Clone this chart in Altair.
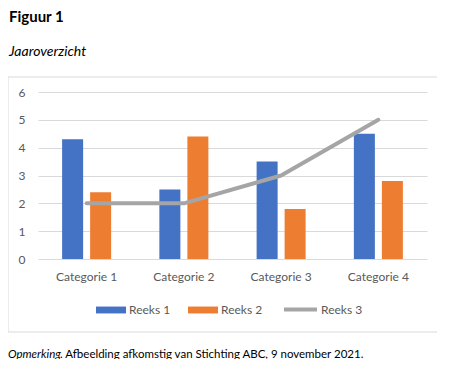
import altair as alt
import pandas as pd

categories = ["Categorie 1", "Categorie 2", "Categorie 3", "Categorie 4"]
reeks1 = [4.3, 2.5, 3.5, 4.5]
reeks2 = [2.4, 4.4, 1.8, 2.8]
reeks3 = [2, 2, 3, 5]
bar_series = ["Reeks 1", "Reeks 2"]
line_series = ["Reeks 3"]
y_ticks = [0, 1, 2, 3, 4, 5, 6]
title_text = ["Figuur 1"]
subtitle_text = ["Jaaroverzicht"]
note_italic = ["Opmerking"]
note_rest = [". Afbeelding afkomstig van Stichting ABC, 9 november 2021."]

FONT = "Lato"
LABEL = "#595959"

bars_df = pd.DataFrame({
    "categorie": categories * 2,
    "reeks": [bar_series[0]] * 4 + [bar_series[1]] * 4,
    "waarde": reeks1 + reeks2,
})
line_df = pd.DataFrame({
    "categorie": categories,
    "reeks": line_series * 4,
    "waarde": reeks3,
})

x_scale = alt.Scale(domain=categories, paddingInner=0.496, paddingOuter=0.248)
y_scale = alt.Scale(domain=[0, 6])
x_axis = alt.Axis(title=None, labelAngle=0, ticks=False, domain=False, grid=False,
                  labelFontSize=12, labelColor=LABEL, labelPadding=12, labelFont=FONT)
y_axis = alt.Axis(title=None, values=y_ticks, ticks=False, domain=False, grid=True,
                  gridColor="#D9D9D9", gridWidth=1, labelFontSize=12, labelColor=LABEL,
                  labelPadding=13, labelFont=FONT)

box = alt.Chart(pd.DataFrame({"a": [0]})).mark_rect(
    fillOpacity=0, stroke="#D9D9D9", strokeWidth=1
).encode(x=alt.value(-30), x2=alt.value(405), y=alt.value(-15), y2=alt.value(240))

bars = alt.Chart(bars_df).mark_bar().encode(
    x=alt.X("categorie:N", scale=x_scale, sort=categories, axis=x_axis),
    xOffset=alt.XOffset("reeks:N", scale=alt.Scale(domain=bar_series, paddingInner=0.25, paddingOuter=0)),
    y=alt.Y("waarde:Q", scale=y_scale, axis=y_axis),
    fill=alt.Fill("reeks:N", scale=alt.Scale(domain=bar_series, range=["#4472C4", "#ED7D31"]),
                  legend=alt.Legend(title=None, orient="none", direction="horizontal",
                                    legendX=58, legendY=203, symbolType="M-1,-0.23H1V0.23H-1Z",
                                    symbolSize=900, symbolStrokeWidth=0, labelFontSize=12,
                                    labelColor=LABEL, labelFont=FONT, columnPadding=17,
                                    labelOffset=3, padding=0)),
)

line = alt.Chart(line_df).mark_line(strokeWidth=4, strokeCap="round", strokeJoin="round").encode(
    x=alt.X("categorie:N", scale=x_scale, sort=categories, axis=x_axis),
    y=alt.Y("waarde:Q", scale=y_scale, axis=y_axis),
    stroke=alt.Stroke("reeks:N", scale=alt.Scale(domain=line_series, range=["#A5A5A5"]),
                      legend=alt.Legend(title=None, orient="none", direction="horizontal",
                                        legendX=244, legendY=199, symbolType="stroke",
                                        symbolSize=1089, symbolStrokeWidth=4, labelFontSize=12,
                                        labelColor=LABEL, labelFont=FONT, labelOffset=2,
                                        padding=0)),
)

t1 = alt.Chart(pd.DataFrame({"t": title_text})).mark_text(
    align="left", baseline="alphabetic", font=FONT, fontSize=15, fontWeight="bold", color="black"
).encode(x=alt.value(-29), y=alt.value(-70), text="t:N")

t2 = alt.Chart(pd.DataFrame({"t": subtitle_text})).mark_text(
    align="left", baseline="alphabetic", font=FONT, fontSize=14, fontStyle="italic", color="black"
).encode(x=alt.value(-29), y=alt.value(-36), text="t:N")

n1 = alt.Chart(pd.DataFrame({"t": note_italic})).mark_text(
    align="left", baseline="alphabetic", font=FONT, fontSize=11.5, fontStyle="italic", color="black"
).encode(x=alt.value(-30), y=alt.value(266), text="t:N")

n2 = alt.Chart(pd.DataFrame({"t": note_rest})).mark_text(
    align="left", baseline="alphabetic", font=FONT, fontSize=11.5, color="black"
).encode(x=alt.value(22), y=alt.value(266), text="t:N")

chart = alt.layer(box, bars, line, t1, t2, n1, n2).resolve_scale(
    fill="independent", stroke="independent"
).properties(
    width=389, height=167,
    autosize=alt.AutoSizeParams(type="none"),
    padding={"left": 30, "top": 84, "right": 10, "bottom": 100},
).configure(font=FONT).configure_view(strokeWidth=0)

chart.save("out.html", embed_options={"renderer": "svg", "actions": False})
